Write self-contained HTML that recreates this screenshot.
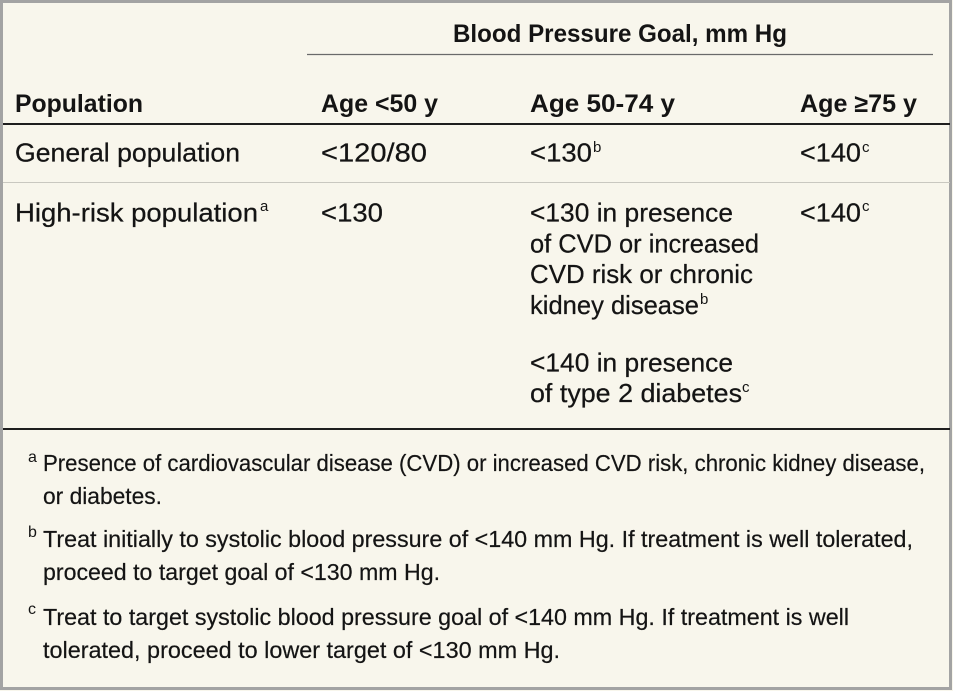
<!DOCTYPE html>
<html><head><meta charset="utf-8"><style>
html,body{margin:0;padding:0;background:#f8f6ec;}
svg{display:block;}
text{font-family:"Liberation Sans",Arial,sans-serif;fill:#141414;}
.h{font-weight:bold;font-size:25px;}
.b{font-size:26px;stroke:#141414;stroke-width:0.25px;}
.f{font-size:23.5px;stroke:#141414;stroke-width:0.2px;}
.s{font-size:15px;}
.fs{font-size:16px;}
</style></head><body>
<svg width="953" height="691" viewBox="0 0 953 691" xmlns="http://www.w3.org/2000/svg">
<rect x="0" y="0" width="953" height="691" fill="#f8f6ec"/>
<rect x="1.5" y="1.5" width="949" height="687" fill="none" stroke="#a3a3a3" stroke-width="3"/>
<!-- header -->
<text class="h" x="453" y="42" textLength="334" lengthAdjust="spacingAndGlyphs">Blood Pressure Goal, mm Hg</text>
<line x1="307" y1="54.5" x2="933" y2="54.5" stroke="#6a6a6a" stroke-width="1.2"/>
<text class="h" x="15" y="112" textLength="128" lengthAdjust="spacingAndGlyphs">Population</text>
<text class="h" x="321" y="112" textLength="117" lengthAdjust="spacingAndGlyphs">Age &lt;50 y</text>
<text class="h" x="530" y="112" textLength="145" lengthAdjust="spacingAndGlyphs">Age 50-74 y</text>
<text class="h" x="800" y="112" textLength="117" lengthAdjust="spacingAndGlyphs">Age ≥75 y</text>
<line x1="3" y1="124" x2="950" y2="124" stroke="#1e1e1e" stroke-width="2"/>
<!-- row 1 -->
<text class="b" x="15" y="161.5" textLength="225" lengthAdjust="spacingAndGlyphs">General population</text>
<text class="b" x="321" y="161.5" textLength="106" lengthAdjust="spacingAndGlyphs">&lt;120/80</text>
<text class="b" x="530" y="161.5" textLength="62" lengthAdjust="spacingAndGlyphs">&lt;130</text>
<text class="s" x="593" y="152">b</text>
<text class="b" x="800" y="161.5" textLength="61" lengthAdjust="spacingAndGlyphs">&lt;140</text>
<text class="s" x="862" y="152">c</text>
<line x1="3" y1="182.5" x2="950" y2="182.5" stroke="#c9c8c0" stroke-width="1"/>
<!-- row 2 -->
<text class="b" x="15" y="221.5" textLength="243" lengthAdjust="spacingAndGlyphs">High-risk population</text>
<text class="s" x="260" y="211">a</text>
<text class="b" x="321" y="221.5" textLength="62" lengthAdjust="spacingAndGlyphs">&lt;130</text>
<text class="b" x="530" y="221.5" textLength="203" lengthAdjust="spacingAndGlyphs">&lt;130 in presence</text>
<text class="b" x="530" y="252.5" textLength="229" lengthAdjust="spacingAndGlyphs">of CVD or increased</text>
<text class="b" x="530" y="283" textLength="223" lengthAdjust="spacingAndGlyphs">CVD risk or chronic</text>
<text class="b" x="530" y="314" textLength="169" lengthAdjust="spacingAndGlyphs">kidney disease</text>
<text class="s" x="700" y="304">b</text>
<text class="b" x="530" y="371.5" textLength="203" lengthAdjust="spacingAndGlyphs">&lt;140 in presence</text>
<text class="b" x="530" y="402" textLength="212" lengthAdjust="spacingAndGlyphs">of type 2 diabetes</text>
<text class="s" x="742" y="392">c</text>
<text class="b" x="800" y="221.5" textLength="61" lengthAdjust="spacingAndGlyphs">&lt;140</text>
<text class="s" x="862" y="211">c</text>
<line x1="3" y1="429" x2="950" y2="429" stroke="#1e1e1e" stroke-width="2"/>
<!-- footnotes -->
<text class="fs" x="28" y="462">a</text>
<text class="f" x="43" y="471" textLength="882" lengthAdjust="spacingAndGlyphs">Presence of cardiovascular disease (CVD) or increased CVD risk, chronic kidney disease,</text>
<text class="f" x="43" y="504" textLength="119" lengthAdjust="spacingAndGlyphs">or diabetes.</text>
<text class="fs" x="28" y="537">b</text>
<text class="f" x="43" y="547" textLength="870" lengthAdjust="spacingAndGlyphs">Treat initially to systolic blood pressure of &lt;140 mm Hg. If treatment is well tolerated,</text>
<text class="f" x="43" y="580" textLength="397" lengthAdjust="spacingAndGlyphs">proceed to target goal of &lt;130 mm Hg.</text>
<text class="fs" x="28" y="614">c</text>
<text class="f" x="43" y="625" textLength="806" lengthAdjust="spacingAndGlyphs">Treat to target systolic blood pressure goal of &lt;140 mm Hg. If treatment is well</text>
<text class="f" x="43" y="658" textLength="517" lengthAdjust="spacingAndGlyphs">tolerated, proceed to lower target of &lt;130 mm Hg.</text>
</svg>
</body></html>
